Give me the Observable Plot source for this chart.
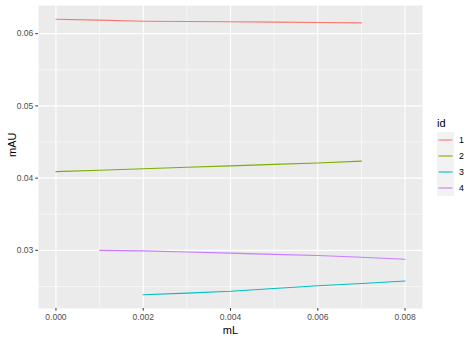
<!DOCTYPE html>
<html><head><meta charset="utf-8">
<script src="https://cdn.jsdelivr.net/npm/d3@7"></script>
<script src="https://cdn.jsdelivr.net/npm/@observablehq/plot@0.6"></script>
<style>
html,body{margin:0;padding:0;background:#fff;}
#wrap{position:relative;width:474px;height:338px;font-family:"Liberation Sans",Arial,sans-serif;}
#legend{position:absolute;left:0;top:0;}
</style></head>
<body><div id="wrap"></div>
<script>
const ids = ["1","2","3","4"];
const colors = ["#F8766D","#7CAE00","#00BFC4","#C77CFF"];
const mL1 = [0,0.001,0.002,0.003,0.004,0.005,0.006,0.007];
const mAU1 = [0.0620,0.06187,0.06172,0.06168,0.06165,0.06160,0.06155,0.06150];
const mL2 = [0,0.001,0.002,0.003,0.004,0.005,0.006,0.007];
const mAU2 = [0.0409,0.0411,0.0413,0.0415,0.0417,0.0419,0.0421,0.04235];
const mL3 = [0.002,0.003,0.004,0.005,0.006,0.007,0.008];
const mAU3 = [0.02385,0.02408,0.02433,0.02472,0.0251,0.02542,0.02575];
const mL4 = [0.001,0.002,0.003,0.004,0.005,0.006,0.007,0.008];
const mAU4 = [0.0300,0.02993,0.02978,0.02962,0.02945,0.02928,0.02905,0.02876];
const xTicks = [0,0.002,0.004,0.006,0.008];
const xMinor = [0.001,0.003,0.005,0.007];
const yTicks = [0.03,0.04,0.05,0.06];
const yMinor = [0.025,0.035,0.045,0.055];

const series = [[mL1,mAU1],[mL2,mAU2],[mL3,mAU3],[mL4,mAU4]];
const data = [];
series.forEach(([xs,ys],i)=>xs.forEach((x,j)=>data.push({mL:x,mAU:ys[j],id:ids[i]})));

const plot = Plot.plot({
  width:474, height:338,
  marginLeft:38, marginRight:52, marginTop:5, marginBottom:30,
  style:{fontFamily:"Liberation Sans, Arial, sans-serif", background:"#fff"},
  x:{domain:[-0.0004,0.0084], label:null},
  y:{domain:[0.02195,0.0639], label:null},
  color:{domain:ids, range:colors},
  marks:[
    Plot.frame({fill:"#EBEBEB", stroke:null}),
    Plot.gridX(xMinor,{stroke:"#fff", strokeOpacity:1, strokeWidth:0.55}),
    Plot.gridY(yMinor,{stroke:"#fff", strokeOpacity:1, strokeWidth:0.55}),
    Plot.gridX(xTicks,{stroke:"#fff", strokeOpacity:1, strokeWidth:1.1}),
    Plot.gridY(yTicks,{stroke:"#fff", strokeOpacity:1, strokeWidth:1.1}),
    Plot.line(data,{x:"mL", y:"mAU", stroke:"id", z:"id", strokeWidth:1.1}),
    Plot.axisX(xTicks,{tickFormat:d3.format(".3f"), tickSize:2.7, tickPadding:2.5, stroke:"#333", fill:"#4D4D4D", fontSize:8.5, label:null}),
    Plot.axisY(yTicks,{tickFormat:d3.format(".2f"), tickSize:2.7, tickPadding:2.5, stroke:"#333", fill:"#4D4D4D", fontSize:8.5, label:null}),
    Plot.text(["mL"],{frameAnchor:"bottom", dy:25, fontSize:11, fill:"#000"}),
    Plot.text(["mAU"],{frameAnchor:"left", dx:-26, rotate:-90, fontSize:11, fill:"#000"})
  ]
});
document.getElementById("wrap").appendChild(plot);

// legend
const svg = d3.select("#wrap").append("svg").attr("id","legend").attr("width",474).attr("height",338);
svg.append("text").attr("x",437).attr("y",127).attr("font-size",11).attr("fill","#000").text("id");
ids.forEach((id,i)=>{
  const cy = 140 + i*16;
  svg.append("rect").attr("x",437).attr("y",cy-8).attr("width",17).attr("height",16).attr("fill","#F2F2F2");
  svg.append("line").attr("x1",438.5).attr("x2",452.5).attr("y1",cy).attr("y2",cy).attr("stroke",colors[i]).attr("stroke-width",1.1);
  svg.append("text").attr("x",459).attr("y",cy+3).attr("font-size",8.8).attr("fill","#000").text(id);
});
</script></body></html>
